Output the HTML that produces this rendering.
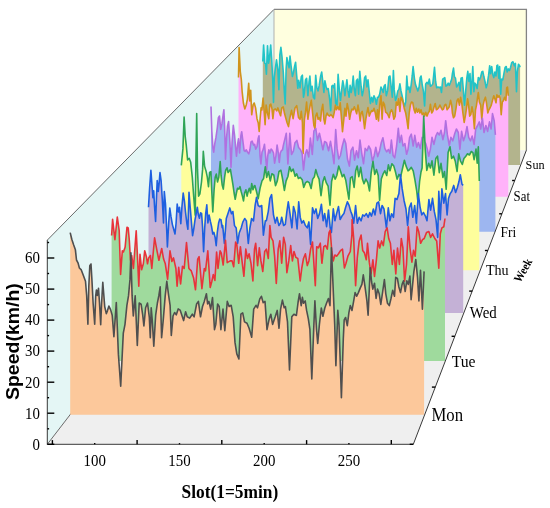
<!DOCTYPE html>
<html><head><meta charset="utf-8"><title>Speed by slot and weekday</title>
<style>html,body{margin:0;padding:0;background:#fff}svg{display:block}</style></head>
<body>
<svg width="550" height="508" viewBox="0 0 550 508">
<rect width="550" height="508" fill="#fff"/>
<polygon points="274.0,9.4 526.4,9.4 526.4,150.2 274.0,150.2" fill="#FFFFDF"/>
<polygon points="47.3,444.3 47.3,240.1 274.0,9.4 274.0,150.2" fill="#E4F6F5"/>
<polygon points="47.3,444.3 413.3,444.3 526.4,150.2 274.0,150.2" fill="#EFEFEF"/>
<path d="M274.0,9.4 L526.4,9.4 L526.4,150.2" fill="none" stroke="#848484" stroke-width="1.3"/>
<path d="M47.3,240.1 L274.0,9.4" fill="none" stroke="#5a5a5a" stroke-width="0.9"/>
<path d="M47.3,444.3 L274.0,150.2" fill="none" stroke="#5a5a5a" stroke-width="0.9"/>
<path d="M274.0,9.4 L274.0,150.2" fill="none" stroke="#a8a8a8" stroke-width="0.9"/>
<polygon points="262.8,165.0 262.8,61.5 263.6,45.0 264.7,63.1 265.6,63.9 266.4,74.1 267.5,45.7 268.6,63.1 269.6,56.8 270.7,45.0 271.8,61.5 272.7,78.8 273.5,102.4 274.3,77.2 275.4,67.8 276.5,59.9 277.8,69.4 278.9,89.8 279.8,55.2 280.9,47.3 282.0,56.8 283.3,72.5 284.4,93.0 285.2,104.0 286.1,69.4 286.9,57.6 288.0,63.1 289.1,67.8 290.0,56.0 291.1,66.2 292.4,76.5 293.5,72.5 294.6,66.2 295.6,62.3 296.7,75.7 297.8,88.3 298.7,80.4 299.8,86.7 300.0,87.8 301.3,76.8 302.4,75.2 303.5,97.2 304.4,92.5 305.5,79.9 306.6,78.3 307.9,95.7 309.1,81.5 309.9,76.0 311.0,90.9 312.1,86.2 313.4,97.2 314.6,98.8 315.7,75.2 316.9,87.8 318.1,90.9 319.2,85.4 320.5,76.8 321.7,72.0 322.8,81.5 323.9,92.5 324.9,80.7 326.0,86.2 327.1,89.4 328.3,88.6 329.6,98.8 330.7,110.6 331.8,86.2 332.8,85.4 333.9,87.8 334.6,83.9 335.7,103.5 337.0,105.1 338.1,74.4 339.4,90.9 340.5,100.4 341.7,89.4 342.8,80.7 343.8,86.2 344.9,95.7 346.0,87.0 346.9,79.9 348.0,90.9 349.1,97.2 350.1,85.4 351.2,92.5 352.3,86.2 353.2,76.0 354.3,89.4 355.4,95.7 356.4,80.7 357.5,79.1 358.6,94.1 359.8,71.3 361.1,86.2 362.2,95.7 363.3,90.9 364.6,77.6 365.7,76.0 366.9,87.0 368.0,79.9 369.3,92.5 370.4,103.5 371.7,97.2 372.8,102.0 374.0,95.7 375.3,98.8 376.4,104.3 377.5,97.2 378.5,97.2 379.7,94.1 381.0,87.0 382.1,89.4 383.2,92.5 384.1,86.2 385.2,84.6 386.3,95.7 387.6,90.9 388.9,76.8 390.0,76.0 391.1,86.2 392.3,97.2 393.4,70.5 394.2,89.4 395.5,100.4 396.6,97.2 397.8,90.9 398.9,89.4 399.9,83.9 401.0,90.9 402.1,95.7 403.3,102.0 404.4,106.7 405.7,102.0 406.8,76.0 407.8,89.4 408.9,87.0 410.0,92.5 411.2,84.6 412.3,75.2 413.1,66.5 414.4,78.3 415.5,84.6 416.7,87.8 417.8,90.9 419.1,87.0 420.2,77.6 421.1,76.0 422.2,84.6 423.5,91.7 424.6,105.9 425.7,83.9 427.0,82.3 428.2,83.9 429.3,79.1 430.4,86.2 431.7,85.4 432.8,83.9 433.7,75.2 434.5,67.3 435.6,81.5 436.7,87.8 438.0,87.0 439.3,87.8 440.4,87.0 441.5,92.5 442.7,79.1 443.8,78.3 444.8,77.6 445.9,86.2 447.1,85.4 448.2,83.1 449.3,85.4 450.6,82.3 451.7,79.1 452.4,73.6 453.5,68.1 454.4,76.8 455.5,78.3 456.6,87.0 457.9,84.6 459.0,82.3 460.2,90.9 461.0,78.3 462.3,77.6 463.4,90.9 464.5,105.1 465.7,90.9 466.9,77.6 467.8,71.3 468.9,81.5 470.0,73.6 470.9,94.1 472.0,80.7 472.8,66.5 473.9,91.7 474.9,83.1 476.0,84.6 477.1,88.6 478.3,77.6 479.4,79.9 480.7,76.8 481.8,72.0 482.8,71.3 483.9,76.8 485.0,81.5 486.2,87.8 487.3,83.9 488.6,75.2 489.7,65.7 490.6,73.6 491.7,66.5 492.8,74.4 493.8,77.6 494.9,72.0 496.0,76.0 496.9,65.7 497.7,65.0 498.8,78.3 499.6,66.5 500.7,94.1 501.7,79.1 502.8,79.9 503.9,73.6 505.1,67.3 506.2,66.5 507.2,72.0 508.3,68.9 509.5,70.5 510.6,67.3 511.7,62.6 513.0,61.8 514.3,65.7 515.4,63.4 516.5,91.7 517.4,71.3 518.5,64.2 519.6,65.7 520.1,67.3 520.1,165.0" fill="#B3B48D"/>
<polyline points="262.8,61.5 263.6,45.0 264.7,63.1 265.6,63.9 266.4,74.1 267.5,45.7 268.6,63.1 269.6,56.8 270.7,45.0 271.8,61.5 272.7,78.8 273.5,102.4 274.3,77.2 275.4,67.8 276.5,59.9 277.8,69.4 278.9,89.8 279.8,55.2 280.9,47.3 282.0,56.8 283.3,72.5 284.4,93.0 285.2,104.0 286.1,69.4 286.9,57.6 288.0,63.1 289.1,67.8 290.0,56.0 291.1,66.2 292.4,76.5 293.5,72.5 294.6,66.2 295.6,62.3 296.7,75.7 297.8,88.3 298.7,80.4 299.8,86.7 300.0,87.8 301.3,76.8 302.4,75.2 303.5,97.2 304.4,92.5 305.5,79.9 306.6,78.3 307.9,95.7 309.1,81.5 309.9,76.0 311.0,90.9 312.1,86.2 313.4,97.2 314.6,98.8 315.7,75.2 316.9,87.8 318.1,90.9 319.2,85.4 320.5,76.8 321.7,72.0 322.8,81.5 323.9,92.5 324.9,80.7 326.0,86.2 327.1,89.4 328.3,88.6 329.6,98.8 330.7,110.6 331.8,86.2 332.8,85.4 333.9,87.8 334.6,83.9 335.7,103.5 337.0,105.1 338.1,74.4 339.4,90.9 340.5,100.4 341.7,89.4 342.8,80.7 343.8,86.2 344.9,95.7 346.0,87.0 346.9,79.9 348.0,90.9 349.1,97.2 350.1,85.4 351.2,92.5 352.3,86.2 353.2,76.0 354.3,89.4 355.4,95.7 356.4,80.7 357.5,79.1 358.6,94.1 359.8,71.3 361.1,86.2 362.2,95.7 363.3,90.9 364.6,77.6 365.7,76.0 366.9,87.0 368.0,79.9 369.3,92.5 370.4,103.5 371.7,97.2 372.8,102.0 374.0,95.7 375.3,98.8 376.4,104.3 377.5,97.2 378.5,97.2 379.7,94.1 381.0,87.0 382.1,89.4 383.2,92.5 384.1,86.2 385.2,84.6 386.3,95.7 387.6,90.9 388.9,76.8 390.0,76.0 391.1,86.2 392.3,97.2 393.4,70.5 394.2,89.4 395.5,100.4 396.6,97.2 397.8,90.9 398.9,89.4 399.9,83.9 401.0,90.9 402.1,95.7 403.3,102.0 404.4,106.7 405.7,102.0 406.8,76.0 407.8,89.4 408.9,87.0 410.0,92.5 411.2,84.6 412.3,75.2 413.1,66.5 414.4,78.3 415.5,84.6 416.7,87.8 417.8,90.9 419.1,87.0 420.2,77.6 421.1,76.0 422.2,84.6 423.5,91.7 424.6,105.9 425.7,83.9 427.0,82.3 428.2,83.9 429.3,79.1 430.4,86.2 431.7,85.4 432.8,83.9 433.7,75.2 434.5,67.3 435.6,81.5 436.7,87.8 438.0,87.0 439.3,87.8 440.4,87.0 441.5,92.5 442.7,79.1 443.8,78.3 444.8,77.6 445.9,86.2 447.1,85.4 448.2,83.1 449.3,85.4 450.6,82.3 451.7,79.1 452.4,73.6 453.5,68.1 454.4,76.8 455.5,78.3 456.6,87.0 457.9,84.6 459.0,82.3 460.2,90.9 461.0,78.3 462.3,77.6 463.4,90.9 464.5,105.1 465.7,90.9 466.9,77.6 467.8,71.3 468.9,81.5 470.0,73.6 470.9,94.1 472.0,80.7 472.8,66.5 473.9,91.7 474.9,83.1 476.0,84.6 477.1,88.6 478.3,77.6 479.4,79.9 480.7,76.8 481.8,72.0 482.8,71.3 483.9,76.8 485.0,81.5 486.2,87.8 487.3,83.9 488.6,75.2 489.7,65.7 490.6,73.6 491.7,66.5 492.8,74.4 493.8,77.6 494.9,72.0 496.0,76.0 496.9,65.7 497.7,65.0 498.8,78.3 499.6,66.5 500.7,94.1 501.7,79.1 502.8,79.9 503.9,73.6 505.1,67.3 506.2,66.5 507.2,72.0 508.3,68.9 509.5,70.5 510.6,67.3 511.7,62.6 513.0,61.8 514.3,65.7 515.4,63.4 516.5,91.7 517.4,71.3 518.5,64.2 519.6,65.7 520.1,67.3" fill="none" stroke="#22C3C7" stroke-width="1.6" stroke-linejoin="round"/>
<polygon points="238.5,196.8 238.5,77.4 239.1,47.5 240.3,71.5 241.3,79.4 242.2,92.2 243.4,103.0 244.8,108.9 246.2,105.0 247.4,99.1 248.7,83.3 249.7,101.0 250.7,90.2 251.7,114.8 253.1,105.0 254.2,103.0 255.6,107.9 257.0,118.7 258.2,122.7 259.2,131.5 260.1,118.7 261.1,107.9 261.9,109.9 263.1,98.1 264.1,110.9 265.1,124.6 266.1,105.0 267.4,112.8 268.8,118.7 269.8,105.0 270.8,104.0 272.0,108.9 272.9,118.7 273.9,109.9 275.3,108.9 276.7,110.9 277.9,107.9 279.2,111.9 280.6,115.8 281.8,107.9 283.2,106.9 284.6,113.8 285.7,117.8 287.1,122.7 288.5,126.6 289.7,118.7 291.5,110.4 293.1,118.6 295.0,108.0 296.7,105.6 298.5,117.5 300.0,119.3 301.3,111.4 302.4,122.4 303.1,153.5 304.4,119.3 305.5,112.2 306.6,102.0 307.9,119.3 309.0,111.4 310.2,105.1 311.3,100.4 312.6,113.0 313.9,125.6 315.0,128.7 315.7,116.1 316.9,113.0 318.1,119.3 319.2,117.7 320.5,120.9 321.6,109.8 322.8,104.3 323.9,119.3 324.9,124.0 326.0,116.1 327.1,113.0 328.3,115.4 329.6,116.1 330.7,114.6 331.8,115.4 333.1,117.7 334.3,112.2 335.4,105.1 336.5,109.8 337.8,106.7 339.1,109.8 340.2,102.8 341.3,116.1 342.5,131.6 343.8,119.3 344.9,108.3 346.0,116.1 347.2,103.5 348.5,109.8 349.6,119.3 350.7,113.0 352.0,109.1 353.2,109.8 354.3,106.7 355.4,109.8 356.7,113.8 358.0,105.1 359.1,112.2 360.2,120.9 361.1,113.0 362.2,111.4 363.3,117.7 364.6,128.7 365.8,119.3 366.9,113.0 368.0,107.5 369.3,116.1 370.4,113.0 371.7,110.6 372.8,111.4 374.0,108.3 375.3,113.0 376.4,119.3 377.5,109.8 378.5,120.9 379.7,105.1 381.0,95.7 382.1,119.3 383.2,102.0 384.4,104.3 385.6,112.2 386.8,113.0 387.9,114.6 389.2,117.7 390.3,112.2 391.5,109.8 392.6,112.2 393.9,119.3 395.2,116.1 396.3,102.0 397.5,105.1 398.6,98.8 399.9,111.4 401.0,97.2 402.1,98.8 403.3,103.5 404.4,109.1 405.7,113.0 406.8,119.3 408.1,128.7 409.2,113.0 410.4,105.1 411.5,102.0 412.8,102.8 414.1,109.8 415.2,113.0 416.3,108.3 417.5,112.2 418.8,109.1 419.9,113.0 421.0,109.8 422.2,114.6 423.5,113.0 424.6,116.1 425.7,112.2 427.0,116.1 428.2,113.0 429.3,111.4 430.4,104.3 431.7,113.0 432.8,111.4 434.1,106.7 435.2,103.5 436.4,109.8 437.5,109.1 438.8,107.5 439.9,105.1 441.1,107.5 442.4,109.8 443.5,109.1 444.6,105.1 445.9,104.3 447.1,109.8 448.2,108.3 449.3,106.7 450.6,100.4 451.7,105.1 452.4,113.0 453.5,117.7 454.7,116.1 456.0,108.3 457.1,100.4 458.2,98.8 459.4,105.1 460.6,97.2 461.8,103.5 462.9,113.0 464.2,122.4 465.3,116.1 466.5,108.3 467.6,98.8 468.6,105.1 469.7,116.1 470.8,114.6 472.0,106.7 473.1,113.0 474.4,128.7 475.5,109.8 476.5,105.1 477.6,97.2 478.3,92.5 479.4,102.0 480.7,105.1 481.8,119.3 483.1,105.1 484.2,100.4 485.4,97.2 486.5,102.8 487.8,113.0 488.9,109.8 490.2,107.5 491.3,105.1 492.5,100.4 493.8,95.7 494.9,98.8 496.0,102.8 496.9,94.9 498.0,97.2 499.1,95.7 500.1,98.0 501.2,114.6 502.3,102.0 503.5,100.4 504.6,97.2 505.9,100.4 506.7,87.8 507.5,87.0 508.3,95.7 508.3,196.8" fill="#FFB2FA"/>
<polyline points="238.5,77.4 239.1,47.5 240.3,71.5 241.3,79.4 242.2,92.2 243.4,103.0 244.8,108.9 246.2,105.0 247.4,99.1 248.7,83.3 249.7,101.0 250.7,90.2 251.7,114.8 253.1,105.0 254.2,103.0 255.6,107.9 257.0,118.7 258.2,122.7 259.2,131.5 260.1,118.7 261.1,107.9 261.9,109.9 263.1,98.1 264.1,110.9 265.1,124.6 266.1,105.0 267.4,112.8 268.8,118.7 269.8,105.0 270.8,104.0 272.0,108.9 272.9,118.7 273.9,109.9 275.3,108.9 276.7,110.9 277.9,107.9 279.2,111.9 280.6,115.8 281.8,107.9 283.2,106.9 284.6,113.8 285.7,117.8 287.1,122.7 288.5,126.6 289.7,118.7 291.5,110.4 293.1,118.6 295.0,108.0 296.7,105.6 298.5,117.5 300.0,119.3 301.3,111.4 302.4,122.4 303.1,153.5 304.4,119.3 305.5,112.2 306.6,102.0 307.9,119.3 309.0,111.4 310.2,105.1 311.3,100.4 312.6,113.0 313.9,125.6 315.0,128.7 315.7,116.1 316.9,113.0 318.1,119.3 319.2,117.7 320.5,120.9 321.6,109.8 322.8,104.3 323.9,119.3 324.9,124.0 326.0,116.1 327.1,113.0 328.3,115.4 329.6,116.1 330.7,114.6 331.8,115.4 333.1,117.7 334.3,112.2 335.4,105.1 336.5,109.8 337.8,106.7 339.1,109.8 340.2,102.8 341.3,116.1 342.5,131.6 343.8,119.3 344.9,108.3 346.0,116.1 347.2,103.5 348.5,109.8 349.6,119.3 350.7,113.0 352.0,109.1 353.2,109.8 354.3,106.7 355.4,109.8 356.7,113.8 358.0,105.1 359.1,112.2 360.2,120.9 361.1,113.0 362.2,111.4 363.3,117.7 364.6,128.7 365.8,119.3 366.9,113.0 368.0,107.5 369.3,116.1 370.4,113.0 371.7,110.6 372.8,111.4 374.0,108.3 375.3,113.0 376.4,119.3 377.5,109.8 378.5,120.9 379.7,105.1 381.0,95.7 382.1,119.3 383.2,102.0 384.4,104.3 385.6,112.2 386.8,113.0 387.9,114.6 389.2,117.7 390.3,112.2 391.5,109.8 392.6,112.2 393.9,119.3 395.2,116.1 396.3,102.0 397.5,105.1 398.6,98.8 399.9,111.4 401.0,97.2 402.1,98.8 403.3,103.5 404.4,109.1 405.7,113.0 406.8,119.3 408.1,128.7 409.2,113.0 410.4,105.1 411.5,102.0 412.8,102.8 414.1,109.8 415.2,113.0 416.3,108.3 417.5,112.2 418.8,109.1 419.9,113.0 421.0,109.8 422.2,114.6 423.5,113.0 424.6,116.1 425.7,112.2 427.0,116.1 428.2,113.0 429.3,111.4 430.4,104.3 431.7,113.0 432.8,111.4 434.1,106.7 435.2,103.5 436.4,109.8 437.5,109.1 438.8,107.5 439.9,105.1 441.1,107.5 442.4,109.8 443.5,109.1 444.6,105.1 445.9,104.3 447.1,109.8 448.2,108.3 449.3,106.7 450.6,100.4 451.7,105.1 452.4,113.0 453.5,117.7 454.7,116.1 456.0,108.3 457.1,100.4 458.2,98.8 459.4,105.1 460.6,97.2 461.8,103.5 462.9,113.0 464.2,122.4 465.3,116.1 466.5,108.3 467.6,98.8 468.6,105.1 469.7,116.1 470.8,114.6 472.0,106.7 473.1,113.0 474.4,128.7 475.5,109.8 476.5,105.1 477.6,97.2 478.3,92.5 479.4,102.0 480.7,105.1 481.8,119.3 483.1,105.1 484.2,100.4 485.4,97.2 486.5,102.8 487.8,113.0 488.9,109.8 490.2,107.5 491.3,105.1 492.5,100.4 493.8,95.7 494.9,98.8 496.0,102.8 496.9,94.9 498.0,97.2 499.1,95.7 500.1,98.0 501.2,114.6 502.3,102.0 503.5,100.4 504.6,97.2 505.9,100.4 506.7,87.8 507.5,87.0 508.3,95.7" fill="none" stroke="#D0941C" stroke-width="1.6" stroke-linejoin="round"/>
<polygon points="211.0,231.7 211.0,106.5 211.8,130.9 212.9,148.3 213.7,152.2 214.8,143.5 216.0,137.2 217.3,127.8 218.4,117.6 219.5,116.0 220.7,129.4 221.9,123.9 223.1,115.2 223.9,109.7 224.7,129.4 225.5,159.3 226.6,137.2 227.5,126.2 228.6,121.5 229.9,142.0 231.0,167.2 232.1,142.0 233.3,125.4 234.6,135.7 235.7,148.3 236.5,156.1 237.6,144.3 238.5,138.8 239.6,153.0 240.9,135.7 241.7,131.7 242.8,140.4 244.1,150.6 245.2,151.4 246.3,149.8 247.5,152.2 248.8,153.8 249.9,149.8 251.0,142.0 252.2,141.2 253.5,145.1 254.6,144.3 255.7,149.1 257.0,146.7 258.1,138.8 259.0,135.7 260.1,156.1 260.9,164.0 262.0,152.2 263.3,149.1 264.5,144.3 265.6,156.1 266.7,170.0 267.7,156.1 268.8,149.8 269.9,153.0 271.1,149.1 272.4,150.6 273.5,153.0 274.6,163.2 275.9,156.1 277.1,145.1 278.2,152.2 279.3,162.4 280.3,153.0 281.4,150.6 282.5,149.8 283.4,145.1 286.3,133.3 287.9,164.0 289.8,133.3 291.5,154.5 293.4,151.0 295.0,142.7 296.9,140.4 298.6,147.5 300.5,149.8 302.1,153.4 303.5,169.9 305.2,154.5 306.8,149.8 308.7,156.9 310.4,138.0 312.3,154.5 313.9,130.9 315.8,128.5 317.5,140.4 319.4,133.3 321.0,140.4 322.9,149.8 324.6,141.5 326.5,142.7 328.6,150.7 330.5,141.3 332.1,150.7 334.0,163.7 335.7,129.5 337.1,148.4 338.7,159.0 340.4,155.5 342.3,146.0 344.2,138.9 345.8,143.6 347.5,159.0 349.4,166.1 351.0,150.7 352.9,147.2 354.6,160.2 356.5,150.7 358.3,157.8 360.0,140.1 361.7,153.1 363.5,163.7 365.2,148.4 367.1,150.7 368.7,146.0 370.6,149.5 372.5,161.4 374.2,155.5 375.8,147.2 377.7,156.6 379.6,150.7 381.3,142.5 382.9,137.7 384.8,148.4 386.7,151.9 388.4,149.5 390.0,153.1 391.4,140.1 393.1,155.5 394.7,157.8 396.6,146.0 398.3,128.3 399.7,142.5 401.4,135.4 403.0,146.0 404.9,143.6 406.6,154.3 408.0,149.5 409.6,137.7 411.3,134.2 413.2,146.0 414.8,135.4 416.7,147.2 418.4,142.5 420.3,148.4 422.1,137.3 423.7,140.8 425.6,143.2 427.3,149.1 428.7,156.2 430.4,149.1 432.0,137.3 433.9,144.4 435.8,136.1 437.5,132.5 439.3,134.9 441.0,130.2 442.9,139.6 444.5,132.5 445.7,120.7 447.4,134.9 449.3,145.5 450.9,137.3 452.8,140.8 454.7,133.7 456.4,129.0 458.3,132.5 459.9,149.1 461.6,131.4 463.5,140.8 465.1,136.1 467.0,126.6 468.7,137.3 470.5,140.8 472.2,136.1 474.1,144.4 475.7,129.0 477.6,125.5 479.3,121.9 480.7,129.0 482.4,118.4 484.0,132.5 485.9,125.5 487.6,131.4 489.5,121.9 491.1,129.0 492.5,113.6 494.2,120.7 495.4,134.9 495.4,231.7" fill="#9DB6F0"/>
<polyline points="211.0,106.5 211.8,130.9 212.9,148.3 213.7,152.2 214.8,143.5 216.0,137.2 217.3,127.8 218.4,117.6 219.5,116.0 220.7,129.4 221.9,123.9 223.1,115.2 223.9,109.7 224.7,129.4 225.5,159.3 226.6,137.2 227.5,126.2 228.6,121.5 229.9,142.0 231.0,167.2 232.1,142.0 233.3,125.4 234.6,135.7 235.7,148.3 236.5,156.1 237.6,144.3 238.5,138.8 239.6,153.0 240.9,135.7 241.7,131.7 242.8,140.4 244.1,150.6 245.2,151.4 246.3,149.8 247.5,152.2 248.8,153.8 249.9,149.8 251.0,142.0 252.2,141.2 253.5,145.1 254.6,144.3 255.7,149.1 257.0,146.7 258.1,138.8 259.0,135.7 260.1,156.1 260.9,164.0 262.0,152.2 263.3,149.1 264.5,144.3 265.6,156.1 266.7,170.0 267.7,156.1 268.8,149.8 269.9,153.0 271.1,149.1 272.4,150.6 273.5,153.0 274.6,163.2 275.9,156.1 277.1,145.1 278.2,152.2 279.3,162.4 280.3,153.0 281.4,150.6 282.5,149.8 283.4,145.1 286.3,133.3 287.9,164.0 289.8,133.3 291.5,154.5 293.4,151.0 295.0,142.7 296.9,140.4 298.6,147.5 300.5,149.8 302.1,153.4 303.5,169.9 305.2,154.5 306.8,149.8 308.7,156.9 310.4,138.0 312.3,154.5 313.9,130.9 315.8,128.5 317.5,140.4 319.4,133.3 321.0,140.4 322.9,149.8 324.6,141.5 326.5,142.7 328.6,150.7 330.5,141.3 332.1,150.7 334.0,163.7 335.7,129.5 337.1,148.4 338.7,159.0 340.4,155.5 342.3,146.0 344.2,138.9 345.8,143.6 347.5,159.0 349.4,166.1 351.0,150.7 352.9,147.2 354.6,160.2 356.5,150.7 358.3,157.8 360.0,140.1 361.7,153.1 363.5,163.7 365.2,148.4 367.1,150.7 368.7,146.0 370.6,149.5 372.5,161.4 374.2,155.5 375.8,147.2 377.7,156.6 379.6,150.7 381.3,142.5 382.9,137.7 384.8,148.4 386.7,151.9 388.4,149.5 390.0,153.1 391.4,140.1 393.1,155.5 394.7,157.8 396.6,146.0 398.3,128.3 399.7,142.5 401.4,135.4 403.0,146.0 404.9,143.6 406.6,154.3 408.0,149.5 409.6,137.7 411.3,134.2 413.2,146.0 414.8,135.4 416.7,147.2 418.4,142.5 420.3,148.4 422.1,137.3 423.7,140.8 425.6,143.2 427.3,149.1 428.7,156.2 430.4,149.1 432.0,137.3 433.9,144.4 435.8,136.1 437.5,132.5 439.3,134.9 441.0,130.2 442.9,139.6 444.5,132.5 445.7,120.7 447.4,134.9 449.3,145.5 450.9,137.3 452.8,140.8 454.7,133.7 456.4,129.0 458.3,132.5 459.9,149.1 461.6,131.4 463.5,140.8 465.1,136.1 467.0,126.6 468.7,137.3 470.5,140.8 472.2,136.1 474.1,144.4 475.7,129.0 477.6,125.5 479.3,121.9 480.7,129.0 482.4,118.4 484.0,132.5 485.9,125.5 487.6,131.4 489.5,121.9 491.1,129.0 492.5,113.6 494.2,120.7 495.4,134.9" fill="none" stroke="#B070E0" stroke-width="1.6" stroke-linejoin="round"/>
<polygon points="181.3,270.2 181.3,165.4 182.9,148.9 184.1,117.1 185.2,136.3 186.3,145.7 187.6,159.9 189.2,158.3 190.7,162.3 192.3,177.2 193.9,199.3 195.2,215.2 195.9,161.5 196.7,113.5 197.5,169.4 198.6,196.1 199.9,193.8 201.5,182.0 202.6,169.4 203.3,151.3 204.6,166.2 206.0,170.9 207.3,177.2 208.5,186.7 209.6,172.5 210.9,171.7 211.7,189.8 212.8,211.9 214.1,189.8 215.2,177.2 216.3,174.1 217.5,182.0 218.8,177.2 220.2,161.5 221.1,175.7 222.2,185.1 223.3,189.1 224.6,177.2 225.7,170.2 227.0,167.8 228.1,172.5 229.3,170.9 230.4,169.4 231.7,177.2 233.0,185.1 234.1,193.0 235.2,199.3 236.4,193.0 237.5,188.3 238.8,189.1 240.0,186.7 241.1,191.4 242.4,196.1 243.5,200.9 244.6,193.0 245.9,189.8 247.1,196.1 248.2,191.4 249.3,188.3 250.6,193.0 251.7,183.5 253.0,189.8 254.2,185.9 254.9,185.6 256.5,191.5 258.2,198.6 260.1,188.0 262.0,180.9 263.6,178.5 265.3,166.7 266.7,177.4 268.4,171.5 270.3,180.9 271.9,173.8 273.8,175.0 275.5,185.6 277.3,180.9 279.0,171.5 280.9,170.3 282.5,178.5 284.4,190.4 286.1,180.9 288.0,176.2 289.6,166.7 291.3,171.5 293.2,169.1 295.1,176.2 296.7,173.8 298.4,178.5 300.3,177.4 302.2,179.7 303.7,187.4 305.6,182.6 307.3,181.5 309.2,182.6 311.1,188.5 312.7,179.1 314.4,176.7 315.8,169.6 317.5,175.5 319.1,179.1 321.0,195.6 322.9,181.5 324.5,176.7 326.2,182.6 328.1,186.2 330.0,205.1 331.6,181.5 333.3,174.4 335.2,179.1 336.8,175.5 338.7,166.1 340.4,170.8 342.3,176.7 343.9,174.4 345.8,180.3 347.5,190.9 348.9,199.2 350.5,177.9 352.2,176.7 354.1,187.4 355.7,170.8 357.2,166.1 358.8,176.7 360.7,167.3 362.4,179.1 364.0,183.8 365.9,179.1 367.8,182.6 369.5,190.9 371.1,173.2 373.0,161.4 374.7,174.4 376.5,169.6 378.2,175.5 379.6,200.4 381.3,179.1 382.9,174.4 384.8,170.8 386.7,175.5 388.4,164.9 390.0,170.8 391.9,163.7 393.8,166.1 395.5,172.0 397.1,179.1 399.0,174.4 400.7,176.7 402.5,168.5 404.4,160.2 406.1,166.1 408.0,170.8 409.6,169.6 411.3,167.3 413.2,170.8 414.8,179.1 416.7,190.9 417.9,201.5 419.6,181.5 421.0,172.0 422.1,168.0 423.7,116.0 425.2,149.1 426.8,170.4 428.7,163.3 430.4,168.0 432.0,160.9 433.9,175.1 435.8,158.5 437.5,156.2 439.3,172.7 441.0,163.3 442.9,177.5 444.5,171.5 446.2,189.3 448.1,152.6 450.0,146.7 451.6,158.5 453.5,156.2 455.2,160.9 457.1,171.5 458.7,153.8 460.4,160.9 462.3,164.5 463.9,158.5 465.8,156.2 467.5,153.8 469.4,155.0 471.3,151.5 472.9,152.6 474.1,159.7 476.0,149.1 477.2,163.3 478.3,146.7 479.3,181.0 479.3,270.2" fill="#FEFE9C"/>
<polyline points="181.3,165.4 182.9,148.9 184.1,117.1 185.2,136.3 186.3,145.7 187.6,159.9 189.2,158.3 190.7,162.3 192.3,177.2 193.9,199.3 195.2,215.2 195.9,161.5 196.7,113.5 197.5,169.4 198.6,196.1 199.9,193.8 201.5,182.0 202.6,169.4 203.3,151.3 204.6,166.2 206.0,170.9 207.3,177.2 208.5,186.7 209.6,172.5 210.9,171.7 211.7,189.8 212.8,211.9 214.1,189.8 215.2,177.2 216.3,174.1 217.5,182.0 218.8,177.2 220.2,161.5 221.1,175.7 222.2,185.1 223.3,189.1 224.6,177.2 225.7,170.2 227.0,167.8 228.1,172.5 229.3,170.9 230.4,169.4 231.7,177.2 233.0,185.1 234.1,193.0 235.2,199.3 236.4,193.0 237.5,188.3 238.8,189.1 240.0,186.7 241.1,191.4 242.4,196.1 243.5,200.9 244.6,193.0 245.9,189.8 247.1,196.1 248.2,191.4 249.3,188.3 250.6,193.0 251.7,183.5 253.0,189.8 254.2,185.9 254.9,185.6 256.5,191.5 258.2,198.6 260.1,188.0 262.0,180.9 263.6,178.5 265.3,166.7 266.7,177.4 268.4,171.5 270.3,180.9 271.9,173.8 273.8,175.0 275.5,185.6 277.3,180.9 279.0,171.5 280.9,170.3 282.5,178.5 284.4,190.4 286.1,180.9 288.0,176.2 289.6,166.7 291.3,171.5 293.2,169.1 295.1,176.2 296.7,173.8 298.4,178.5 300.3,177.4 302.2,179.7 303.7,187.4 305.6,182.6 307.3,181.5 309.2,182.6 311.1,188.5 312.7,179.1 314.4,176.7 315.8,169.6 317.5,175.5 319.1,179.1 321.0,195.6 322.9,181.5 324.5,176.7 326.2,182.6 328.1,186.2 330.0,205.1 331.6,181.5 333.3,174.4 335.2,179.1 336.8,175.5 338.7,166.1 340.4,170.8 342.3,176.7 343.9,174.4 345.8,180.3 347.5,190.9 348.9,199.2 350.5,177.9 352.2,176.7 354.1,187.4 355.7,170.8 357.2,166.1 358.8,176.7 360.7,167.3 362.4,179.1 364.0,183.8 365.9,179.1 367.8,182.6 369.5,190.9 371.1,173.2 373.0,161.4 374.7,174.4 376.5,169.6 378.2,175.5 379.6,200.4 381.3,179.1 382.9,174.4 384.8,170.8 386.7,175.5 388.4,164.9 390.0,170.8 391.9,163.7 393.8,166.1 395.5,172.0 397.1,179.1 399.0,174.4 400.7,176.7 402.5,168.5 404.4,160.2 406.1,166.1 408.0,170.8 409.6,169.6 411.3,167.3 413.2,170.8 414.8,179.1 416.7,190.9 417.9,201.5 419.6,181.5 421.0,172.0 422.1,168.0 423.7,116.0 425.2,149.1 426.8,170.4 428.7,163.3 430.4,168.0 432.0,160.9 433.9,175.1 435.8,158.5 437.5,156.2 439.3,172.7 441.0,163.3 442.9,177.5 444.5,171.5 446.2,189.3 448.1,152.6 450.0,146.7 451.6,158.5 453.5,156.2 455.2,160.9 457.1,171.5 458.7,153.8 460.4,160.9 462.3,164.5 463.9,158.5 465.8,156.2 467.5,153.8 469.4,155.0 471.3,151.5 472.9,152.6 474.1,159.7 476.0,149.1 477.2,163.3 478.3,146.7 479.3,181.0" fill="none" stroke="#2FA457" stroke-width="1.6" stroke-linejoin="round"/>
<polygon points="148.5,313.1 148.5,207.2 149.6,188.3 150.9,170.2 152.1,186.8 152.9,197.8 153.7,190.7 154.5,205.7 155.6,221.4 156.4,199.4 157.2,180.5 158.3,191.5 159.1,183.6 160.0,172.6 161.1,180.5 162.2,197.8 163.5,223.0 164.3,191.5 165.5,204.1 166.6,227.7 167.4,246.9 168.7,223.0 169.8,208.0 171.0,216.7 172.4,224.6 173.7,229.3 175.0,234.0 176.1,223.0 177.2,204.1 178.4,212.0 179.5,207.2 180.8,223.8 181.9,207.2 183.2,193.1 184.4,200.9 185.5,212.0 186.8,223.0 187.9,229.3 189.0,192.3 190.2,207.2 191.5,223.0 192.6,235.6 193.7,229.3 195.0,219.8 196.2,213.5 197.3,207.2 198.4,215.1 199.4,218.3 200.5,212.8 201.6,213.5 202.5,226.1 203.6,251.7 204.7,227.7 205.7,213.5 206.8,204.9 207.9,223.0 209.1,215.1 210.4,221.4 211.5,226.1 212.8,234.0 213.9,232.4 215.1,237.2 216.2,245.7 217.3,232.4 218.6,223.0 219.7,219.1 221.0,219.8 222.2,227.7 222.7,225.6 224.4,243.4 226.3,218.5 227.9,213.8 229.8,207.9 231.5,213.8 232.9,211.5 234.5,225.6 236.2,228.0 237.6,243.4 239.3,232.7 241.2,228.0 242.8,222.1 244.7,218.5 246.4,220.9 248.3,243.4 249.9,228.0 251.6,218.5 253.5,220.9 255.1,205.5 256.5,197.3 258.2,205.5 259.8,206.7 261.7,205.5 263.4,235.1 265.3,220.9 266.4,220.7 268.3,211.3 269.9,198.3 271.6,194.7 273.5,214.8 275.3,223.1 277.0,217.2 278.9,225.5 280.5,223.1 281.7,217.2 283.6,225.5 285.3,224.3 286.9,211.3 288.3,201.8 290.0,213.6 291.9,227.8 293.5,206.5 295.2,212.5 297.1,229.0 298.7,201.8 300.2,217.2 301.8,223.1 303.5,220.7 305.4,225.5 307.3,227.8 308.9,221.9 310.6,244.4 312.5,207.7 314.3,213.6 316.0,208.9 317.7,218.4 319.5,213.6 321.4,204.2 323.1,220.7 324.7,213.6 326.6,226.6 328.5,210.1 330.2,227.8 331.4,232.5 333.3,208.9 334.9,220.7 336.6,213.6 338.5,206.5 340.1,219.5 342.0,216.0 343.9,213.6 345.5,207.7 347.4,201.8 349.1,205.4 350.7,211.3 352.1,214.9 353.7,223.2 355.6,205.5 357.3,223.2 359.2,217.3 361.1,220.8 362.7,214.9 364.4,216.1 366.3,213.7 368.2,217.3 369.8,212.5 371.5,216.1 373.4,209.0 375.0,214.9 376.9,203.1 378.6,201.9 380.5,213.7 382.1,205.5 384.0,209.0 386.4,227.9 388.3,207.8 389.9,220.8 391.6,213.7 393.5,217.3 395.1,198.4 397.0,199.5 398.9,193.6 400.5,174.7 402.2,188.9 404.1,200.7 406.0,209.0 407.6,225.5 409.3,207.8 411.2,203.1 412.8,217.3 414.7,205.5 416.4,223.2 418.3,193.6 420.2,207.8 421.8,214.9 423.5,212.5 425.4,216.1 427.0,220.8 428.9,199.5 430.6,210.2 432.5,198.4 434.3,211.4 436.0,219.6 437.7,237.4 438.8,191.3 440.3,219.6 441.9,188.9 443.8,203.1 445.5,193.6 447.1,214.9 448.5,198.4 450.2,193.6 451.8,191.3 453.7,185.4 455.6,192.5 457.3,187.7 458.9,181.8 460.3,174.7 462.0,184.2 463.2,185.4 463.2,313.1" fill="#C4B1D6"/>
<polyline points="148.5,207.2 149.6,188.3 150.9,170.2 152.1,186.8 152.9,197.8 153.7,190.7 154.5,205.7 155.6,221.4 156.4,199.4 157.2,180.5 158.3,191.5 159.1,183.6 160.0,172.6 161.1,180.5 162.2,197.8 163.5,223.0 164.3,191.5 165.5,204.1 166.6,227.7 167.4,246.9 168.7,223.0 169.8,208.0 171.0,216.7 172.4,224.6 173.7,229.3 175.0,234.0 176.1,223.0 177.2,204.1 178.4,212.0 179.5,207.2 180.8,223.8 181.9,207.2 183.2,193.1 184.4,200.9 185.5,212.0 186.8,223.0 187.9,229.3 189.0,192.3 190.2,207.2 191.5,223.0 192.6,235.6 193.7,229.3 195.0,219.8 196.2,213.5 197.3,207.2 198.4,215.1 199.4,218.3 200.5,212.8 201.6,213.5 202.5,226.1 203.6,251.7 204.7,227.7 205.7,213.5 206.8,204.9 207.9,223.0 209.1,215.1 210.4,221.4 211.5,226.1 212.8,234.0 213.9,232.4 215.1,237.2 216.2,245.7 217.3,232.4 218.6,223.0 219.7,219.1 221.0,219.8 222.2,227.7 222.7,225.6 224.4,243.4 226.3,218.5 227.9,213.8 229.8,207.9 231.5,213.8 232.9,211.5 234.5,225.6 236.2,228.0 237.6,243.4 239.3,232.7 241.2,228.0 242.8,222.1 244.7,218.5 246.4,220.9 248.3,243.4 249.9,228.0 251.6,218.5 253.5,220.9 255.1,205.5 256.5,197.3 258.2,205.5 259.8,206.7 261.7,205.5 263.4,235.1 265.3,220.9 266.4,220.7 268.3,211.3 269.9,198.3 271.6,194.7 273.5,214.8 275.3,223.1 277.0,217.2 278.9,225.5 280.5,223.1 281.7,217.2 283.6,225.5 285.3,224.3 286.9,211.3 288.3,201.8 290.0,213.6 291.9,227.8 293.5,206.5 295.2,212.5 297.1,229.0 298.7,201.8 300.2,217.2 301.8,223.1 303.5,220.7 305.4,225.5 307.3,227.8 308.9,221.9 310.6,244.4 312.5,207.7 314.3,213.6 316.0,208.9 317.7,218.4 319.5,213.6 321.4,204.2 323.1,220.7 324.7,213.6 326.6,226.6 328.5,210.1 330.2,227.8 331.4,232.5 333.3,208.9 334.9,220.7 336.6,213.6 338.5,206.5 340.1,219.5 342.0,216.0 343.9,213.6 345.5,207.7 347.4,201.8 349.1,205.4 350.7,211.3 352.1,214.9 353.7,223.2 355.6,205.5 357.3,223.2 359.2,217.3 361.1,220.8 362.7,214.9 364.4,216.1 366.3,213.7 368.2,217.3 369.8,212.5 371.5,216.1 373.4,209.0 375.0,214.9 376.9,203.1 378.6,201.9 380.5,213.7 382.1,205.5 384.0,209.0 386.4,227.9 388.3,207.8 389.9,220.8 391.6,213.7 393.5,217.3 395.1,198.4 397.0,199.5 398.9,193.6 400.5,174.7 402.2,188.9 404.1,200.7 406.0,209.0 407.6,225.5 409.3,207.8 411.2,203.1 412.8,217.3 414.7,205.5 416.4,223.2 418.3,193.6 420.2,207.8 421.8,214.9 423.5,212.5 425.4,216.1 427.0,220.8 428.9,199.5 430.6,210.2 432.5,198.4 434.3,211.4 436.0,219.6 437.7,237.4 438.8,191.3 440.3,219.6 441.9,188.9 443.8,203.1 445.5,193.6 447.1,214.9 448.5,198.4 450.2,193.6 451.8,191.3 453.7,185.4 455.6,192.5 457.3,187.7 458.9,181.8 460.3,174.7 462.0,184.2 463.2,185.4" fill="none" stroke="#1E5FE0" stroke-width="1.6" stroke-linejoin="round"/>
<polygon points="111.6,361.0 111.6,235.5 112.6,219.4 114.9,239.7 117.3,217.0 119.2,230.7 120.6,274.5 122.3,250.8 123.4,252.0 125.1,247.3 127.0,227.2 128.2,227.9 129.3,240.2 130.5,260.3 131.7,255.5 133.4,268.5 136.2,230.7 137.6,259.1 138.8,286.3 140.0,254.4 141.6,269.7 143.3,263.8 144.7,250.8 146.4,256.7 147.5,263.8 148.7,257.9 150.4,255.5 151.8,268.5 154.6,237.8 157.0,250.8 158.9,260.3 161.7,248.5 163.6,259.1 165.3,263.8 167.6,279.2 170.0,250.8 171.9,261.5 173.5,257.9 175.9,268.5 177.1,286.3 178.7,267.4 180.6,283.9 182.5,266.2 184.2,268.5 186.5,242.5 188.9,268.5 191.3,270.9 193.6,278.0 195.5,289.8 197.7,259.1 199.1,256.7 201.9,288.6 204.3,268.5 205.5,270.9 207.8,250.8 210.2,287.5 211.8,281.5 213.3,274.5 214.9,280.4 216.6,252.0 218.0,268.5 220.1,250.8 221.3,253.2 223.2,265.0 225.5,240.2 227.2,262.6 230.2,260.9 232.1,260.9 233.7,266.8 235.6,242.0 236.8,244.4 238.7,263.3 240.4,246.7 242.0,260.9 243.9,276.3 245.8,249.1 247.5,258.5 249.1,253.8 251.0,263.3 252.9,281.0 254.5,249.1 255.7,243.2 257.6,265.6 259.3,247.9 260.9,260.9 262.8,271.5 264.7,251.5 266.4,249.1 268.3,258.5 269.9,225.5 271.1,237.3 273.0,240.8 274.6,256.2 276.3,283.4 278.2,249.1 279.8,240.8 281.7,263.3 283.6,237.3 285.3,244.4 286.9,272.7 288.8,260.9 290.7,245.5 292.4,260.9 294.0,251.5 295.9,257.4 297.8,258.5 300.2,281.0 301.8,268.0 303.5,258.5 305.4,253.8 307.3,265.6 308.9,260.9 310.6,249.1 312.5,242.0 315.3,285.7 316.7,246.7 318.4,247.9 320.3,243.2 321.9,263.3 323.8,246.7 325.5,245.5 327.3,249.1 329.0,232.5 330.2,230.2 331.8,251.5 333.3,260.9 334.9,255.0 336.6,256.2 338.5,253.8 340.8,250.3 342.5,249.1 344.4,268.0 346.0,263.3 347.9,256.2 350.3,251.5 351.9,234.9 352.1,219.6 353.7,238.5 355.6,285.8 357.3,257.5 359.2,240.9 361.1,235.0 362.7,250.4 364.4,252.7 366.3,259.8 367.5,243.3 369.3,262.2 371.0,274.0 372.9,259.8 374.5,276.4 376.4,259.8 378.1,240.9 379.7,248.0 381.6,240.9 383.3,245.6 385.2,231.5 387.1,227.9 388.7,238.5 390.4,243.3 392.3,264.5 393.9,250.4 395.8,274.0 397.5,248.0 399.4,264.5 401.3,238.5 402.9,248.0 404.6,281.1 406.5,264.5 408.3,226.7 410.0,248.0 411.9,262.2 413.5,250.4 415.2,256.3 417.1,226.7 418.7,231.5 420.6,243.3 422.5,239.7 424.2,238.5 426.5,232.6 428.9,231.5 430.6,237.4 432.5,233.8 434.8,238.5 436.7,240.9 438.8,268.1 440.3,233.8 441.9,227.9 443.8,226.7 445.0,218.5 445.0,361.0" fill="#9FDA9D"/>
<polyline points="111.6,235.5 112.6,219.4 114.9,239.7 117.3,217.0 119.2,230.7 120.6,274.5 122.3,250.8 123.4,252.0 125.1,247.3 127.0,227.2 128.2,227.9 129.3,240.2 130.5,260.3 131.7,255.5 133.4,268.5 136.2,230.7 137.6,259.1 138.8,286.3 140.0,254.4 141.6,269.7 143.3,263.8 144.7,250.8 146.4,256.7 147.5,263.8 148.7,257.9 150.4,255.5 151.8,268.5 154.6,237.8 157.0,250.8 158.9,260.3 161.7,248.5 163.6,259.1 165.3,263.8 167.6,279.2 170.0,250.8 171.9,261.5 173.5,257.9 175.9,268.5 177.1,286.3 178.7,267.4 180.6,283.9 182.5,266.2 184.2,268.5 186.5,242.5 188.9,268.5 191.3,270.9 193.6,278.0 195.5,289.8 197.7,259.1 199.1,256.7 201.9,288.6 204.3,268.5 205.5,270.9 207.8,250.8 210.2,287.5 211.8,281.5 213.3,274.5 214.9,280.4 216.6,252.0 218.0,268.5 220.1,250.8 221.3,253.2 223.2,265.0 225.5,240.2 227.2,262.6 230.2,260.9 232.1,260.9 233.7,266.8 235.6,242.0 236.8,244.4 238.7,263.3 240.4,246.7 242.0,260.9 243.9,276.3 245.8,249.1 247.5,258.5 249.1,253.8 251.0,263.3 252.9,281.0 254.5,249.1 255.7,243.2 257.6,265.6 259.3,247.9 260.9,260.9 262.8,271.5 264.7,251.5 266.4,249.1 268.3,258.5 269.9,225.5 271.1,237.3 273.0,240.8 274.6,256.2 276.3,283.4 278.2,249.1 279.8,240.8 281.7,263.3 283.6,237.3 285.3,244.4 286.9,272.7 288.8,260.9 290.7,245.5 292.4,260.9 294.0,251.5 295.9,257.4 297.8,258.5 300.2,281.0 301.8,268.0 303.5,258.5 305.4,253.8 307.3,265.6 308.9,260.9 310.6,249.1 312.5,242.0 315.3,285.7 316.7,246.7 318.4,247.9 320.3,243.2 321.9,263.3 323.8,246.7 325.5,245.5 327.3,249.1 329.0,232.5 330.2,230.2 331.8,251.5 333.3,260.9 334.9,255.0 336.6,256.2 338.5,253.8 340.8,250.3 342.5,249.1 344.4,268.0 346.0,263.3 347.9,256.2 350.3,251.5 351.9,234.9 352.1,219.6 353.7,238.5 355.6,285.8 357.3,257.5 359.2,240.9 361.1,235.0 362.7,250.4 364.4,252.7 366.3,259.8 367.5,243.3 369.3,262.2 371.0,274.0 372.9,259.8 374.5,276.4 376.4,259.8 378.1,240.9 379.7,248.0 381.6,240.9 383.3,245.6 385.2,231.5 387.1,227.9 388.7,238.5 390.4,243.3 392.3,264.5 393.9,250.4 395.8,274.0 397.5,248.0 399.4,264.5 401.3,238.5 402.9,248.0 404.6,281.1 406.5,264.5 408.3,226.7 410.0,248.0 411.9,262.2 413.5,250.4 415.2,256.3 417.1,226.7 418.7,231.5 420.6,243.3 422.5,239.7 424.2,238.5 426.5,232.6 428.9,231.5 430.6,237.4 432.5,233.8 434.8,238.5 436.7,240.9 438.8,268.1 440.3,233.8 441.9,227.9 443.8,226.7 445.0,218.5" fill="none" stroke="#E8333A" stroke-width="1.6" stroke-linejoin="round"/>
<polygon points="70.2,414.8 70.2,232.6 71.8,239.2 73.7,245.1 75.4,249.8 76.5,260.0 78.0,262.8 79.4,268.0 81.3,269.9 83.2,275.1 85.5,281.3 86.7,295.9 87.9,324.3 88.8,286.5 89.8,265.7 91.0,264.0 91.9,279.4 93.1,303.0 94.7,324.3 95.7,295.9 96.4,290.0 97.3,295.4 98.5,288.3 99.5,303.0 100.7,324.7 101.6,303.0 102.8,282.4 103.7,293.5 104.7,306.5 106.3,313.6 107.5,310.6 108.9,306.1 110.6,309.6 112.2,315.3 113.9,336.6 116.3,302.5 118.4,354.4 120.7,386.3 121.9,361.5 123.3,333.1 125.0,324.3 126.9,305.4 128.5,295.9 130.0,279.4 130.9,252.9 132.1,295.9 133.3,316.0 135.2,295.9 137.3,345.4 139.2,303.0 141.1,304.2 142.7,314.8 143.9,326.0 145.6,307.7 147.5,303.0 149.3,317.2 150.3,337.8 151.2,307.7 152.2,319.5 153.8,346.1 155.7,314.8 157.4,303.0 158.8,295.9 160.2,286.9 161.6,337.8 163.3,319.5 165.2,295.9 166.8,281.3 168.7,295.9 170.1,305.4 171.3,335.5 173.0,316.0 174.6,312.5 176.3,314.8 178.2,308.9 180.1,310.1 183.6,320.6 185.6,311.7 187.2,316.8 189.7,318.1 192.3,314.2 194.1,316.8 196.6,304.0 198.4,301.4 200.5,316.8 202.5,306.5 204.3,301.4 206.4,293.7 207.6,304.0 208.9,301.4 210.7,309.1 212.5,297.6 214.5,329.6 215.8,324.4 217.6,304.0 219.2,306.5 220.9,329.6 223.0,309.1 224.8,330.8 227.3,301.4 229.1,306.5 231.2,305.3 233.2,316.8 235.0,342.4 236.8,353.9 238.9,359.0 240.9,314.2 242.7,312.9 244.5,321.9 247.0,323.2 249.1,328.3 251.7,337.2 253.7,309.1 256.0,305.3 257.5,307.8 259.8,298.9 261.4,296.3 263.2,302.7 265.0,301.4 267.0,329.6 269.1,319.3 270.8,314.2 272.6,324.4 275.2,316.8 277.2,310.4 279.0,328.3 280.6,309.1 282.4,300.1 284.2,307.8 285.4,306.5 287.5,321.9 289.5,370.0 291.8,316.8 293.9,314.2 296.4,315.5 298.2,301.4 299.5,293.7 301.2,305.6 302.4,297.4 303.5,303.3 305.2,300.9 306.6,310.4 308.3,318.6 309.9,329.3 311.8,378.9 313.7,329.3 314.9,300.9 316.5,329.3 317.7,343.5 319.4,324.5 321.3,308.0 322.9,316.3 324.8,308.0 326.5,303.3 328.4,298.5 330.0,305.6 331.4,247.7 333.1,286.7 334.7,324.5 335.9,365.7 337.8,310.4 339.0,324.5 341.4,397.6 343.3,338.7 344.2,319.8 345.6,317.5 347.3,325.7 348.9,312.7 350.3,305.6 352.0,310.4 353.7,300.9 355.1,292.6 356.7,296.2 358.4,292.6 360.3,287.9 361.9,284.4 363.3,274.9 365.0,286.7 366.9,300.9 368.1,315.1 369.3,289.1 370.2,267.8 371.6,282.0 372.8,289.1 374.5,283.2 376.1,298.5 377.5,289.1 379.2,293.8 380.8,304.5 382.7,291.5 384.4,279.6 385.8,293.8 387.5,303.3 389.3,305.6 391.0,298.5 392.7,290.3 394.5,296.2 395.7,277.3 397.4,278.5 398.8,286.7 400.5,292.6 402.1,284.4 403.5,280.8 405.2,291.5 406.8,280.8 408.3,284.4 409.9,276.1 411.1,299.7 412.3,287.9 413.9,271.4 415.8,259.5 417.5,277.3 418.9,300.9 420.5,270.2 422.4,309.2 424.1,271.4 424.1,414.8" fill="#FCC89B"/>
<polyline points="70.2,232.6 71.8,239.2 73.7,245.1 75.4,249.8 76.5,260.0 78.0,262.8 79.4,268.0 81.3,269.9 83.2,275.1 85.5,281.3 86.7,295.9 87.9,324.3 88.8,286.5 89.8,265.7 91.0,264.0 91.9,279.4 93.1,303.0 94.7,324.3 95.7,295.9 96.4,290.0 97.3,295.4 98.5,288.3 99.5,303.0 100.7,324.7 101.6,303.0 102.8,282.4 103.7,293.5 104.7,306.5 106.3,313.6 107.5,310.6 108.9,306.1 110.6,309.6 112.2,315.3 113.9,336.6 116.3,302.5 118.4,354.4 120.7,386.3 121.9,361.5 123.3,333.1 125.0,324.3 126.9,305.4 128.5,295.9 130.0,279.4 130.9,252.9 132.1,295.9 133.3,316.0 135.2,295.9 137.3,345.4 139.2,303.0 141.1,304.2 142.7,314.8 143.9,326.0 145.6,307.7 147.5,303.0 149.3,317.2 150.3,337.8 151.2,307.7 152.2,319.5 153.8,346.1 155.7,314.8 157.4,303.0 158.8,295.9 160.2,286.9 161.6,337.8 163.3,319.5 165.2,295.9 166.8,281.3 168.7,295.9 170.1,305.4 171.3,335.5 173.0,316.0 174.6,312.5 176.3,314.8 178.2,308.9 180.1,310.1 183.6,320.6 185.6,311.7 187.2,316.8 189.7,318.1 192.3,314.2 194.1,316.8 196.6,304.0 198.4,301.4 200.5,316.8 202.5,306.5 204.3,301.4 206.4,293.7 207.6,304.0 208.9,301.4 210.7,309.1 212.5,297.6 214.5,329.6 215.8,324.4 217.6,304.0 219.2,306.5 220.9,329.6 223.0,309.1 224.8,330.8 227.3,301.4 229.1,306.5 231.2,305.3 233.2,316.8 235.0,342.4 236.8,353.9 238.9,359.0 240.9,314.2 242.7,312.9 244.5,321.9 247.0,323.2 249.1,328.3 251.7,337.2 253.7,309.1 256.0,305.3 257.5,307.8 259.8,298.9 261.4,296.3 263.2,302.7 265.0,301.4 267.0,329.6 269.1,319.3 270.8,314.2 272.6,324.4 275.2,316.8 277.2,310.4 279.0,328.3 280.6,309.1 282.4,300.1 284.2,307.8 285.4,306.5 287.5,321.9 289.5,370.0 291.8,316.8 293.9,314.2 296.4,315.5 298.2,301.4 299.5,293.7 301.2,305.6 302.4,297.4 303.5,303.3 305.2,300.9 306.6,310.4 308.3,318.6 309.9,329.3 311.8,378.9 313.7,329.3 314.9,300.9 316.5,329.3 317.7,343.5 319.4,324.5 321.3,308.0 322.9,316.3 324.8,308.0 326.5,303.3 328.4,298.5 330.0,305.6 331.4,247.7 333.1,286.7 334.7,324.5 335.9,365.7 337.8,310.4 339.0,324.5 341.4,397.6 343.3,338.7 344.2,319.8 345.6,317.5 347.3,325.7 348.9,312.7 350.3,305.6 352.0,310.4 353.7,300.9 355.1,292.6 356.7,296.2 358.4,292.6 360.3,287.9 361.9,284.4 363.3,274.9 365.0,286.7 366.9,300.9 368.1,315.1 369.3,289.1 370.2,267.8 371.6,282.0 372.8,289.1 374.5,283.2 376.1,298.5 377.5,289.1 379.2,293.8 380.8,304.5 382.7,291.5 384.4,279.6 385.8,293.8 387.5,303.3 389.3,305.6 391.0,298.5 392.7,290.3 394.5,296.2 395.7,277.3 397.4,278.5 398.8,286.7 400.5,292.6 402.1,284.4 403.5,280.8 405.2,291.5 406.8,280.8 408.3,284.4 409.9,276.1 411.1,299.7 412.3,287.9 413.9,271.4 415.8,259.5 417.5,277.3 418.9,300.9 420.5,270.2 422.4,309.2 424.1,271.4" fill="none" stroke="#4F4F4F" stroke-width="1.6" stroke-linejoin="round"/>
<g stroke="#222" stroke-width="0.9" fill="none">
<path d="M47.3,240.1 L47.3,444.3"/>
<path d="M47.3,444.3 L413.3,444.3"/>
<path d="M413.3,444.3 L526.4,150.2"/>
</g>
<g stroke="#000" stroke-width="1.4" fill="none">
<path d="M47.3,444.3 h7.0"/>
<path d="M47.3,428.8 h1.8"/>
<path d="M47.3,413.2 h7.0"/>
<path d="M47.3,397.7 h1.8"/>
<path d="M47.3,382.2 h7.0"/>
<path d="M47.3,366.7 h1.8"/>
<path d="M47.3,351.1 h7.0"/>
<path d="M47.3,335.6 h1.8"/>
<path d="M47.3,320.1 h7.0"/>
<path d="M47.3,304.6 h1.8"/>
<path d="M47.3,289.1 h7.0"/>
<path d="M47.3,273.5 h1.8"/>
<path d="M47.3,258.0 h7.0"/>
<path d="M47.3,242.5 h1.8"/>
<path d="M52.4,444.3 v-4.2"/>
<path d="M94.7,444.3 v-1.2"/>
<path d="M137.1,444.3 v-4.2"/>
<path d="M179.5,444.3 v-1.2"/>
<path d="M221.8,444.3 v-4.2"/>
<path d="M264.2,444.3 v-1.2"/>
<path d="M306.6,444.3 v-4.2"/>
<path d="M348.9,444.3 v-1.2"/>
<path d="M391.3,444.3 v-4.2"/>
<path d="M413.3,444.3 h-3.6"/>
<path d="M435.3,387.1 h-3.4"/>
<path d="M454.8,336.3 h-3.2"/>
<path d="M472.2,291.1 h-3.0"/>
<path d="M487.8,250.5 h-2.9"/>
<path d="M501.9,213.8 h-2.7"/>
<path d="M514.7,180.5 h-2.6"/>
</g>
<g font-family="'Liberation Serif', serif" fill="#000">
<text transform="translate(40,449.6) scale(0.92,1)" font-size="16.2" text-anchor="end">0</text>
<text transform="translate(40,418.6) scale(0.92,1)" font-size="16.2" text-anchor="end">10</text>
<text transform="translate(40,387.5) scale(0.92,1)" font-size="16.2" text-anchor="end">20</text>
<text transform="translate(40,356.4) scale(0.92,1)" font-size="16.2" text-anchor="end">30</text>
<text transform="translate(40,325.4) scale(0.92,1)" font-size="16.2" text-anchor="end">40</text>
<text transform="translate(40,294.4) scale(0.92,1)" font-size="16.2" text-anchor="end">50</text>
<text transform="translate(40,263.3) scale(0.92,1)" font-size="16.2" text-anchor="end">60</text>
<text transform="translate(94.7,466.3) scale(0.92,1)" font-size="16.2" text-anchor="middle">100</text>
<text transform="translate(179.5,466.3) scale(0.92,1)" font-size="16.2" text-anchor="middle">150</text>
<text transform="translate(264.2,466.3) scale(0.92,1)" font-size="16.2" text-anchor="middle">200</text>
<text transform="translate(348.9,466.3) scale(0.92,1)" font-size="16.2" text-anchor="middle">250</text>
<text transform="translate(431.4,420.8) scale(0.92,1)" font-size="18.2">Mon</text>
<text transform="translate(451.7,366.6) scale(0.92,1)" font-size="17.1">Tue</text>
<text transform="translate(469.8,318.4) scale(0.92,1)" font-size="16.2">Wed</text>
<text transform="translate(485.9,275.3) scale(0.92,1)" font-size="15.3">Thu</text>
<text transform="translate(500.5,236.5) scale(0.92,1)" font-size="14.6">Fri</text>
<text transform="translate(513.6,201.3) scale(0.92,1)" font-size="13.9">Sat</text>
<text transform="translate(525.6,169.4) scale(0.92,1)" font-size="13.3">Sun</text>
<text transform="translate(181.5,498.4) scale(0.9,1)" font-size="19.3" font-weight="bold">Slot(1=5min)</text>
<text transform="translate(526.4,272.4) rotate(-61) scale(1.05,1.2)" font-size="10" font-weight="bold" text-anchor="middle">Week</text>
</g>
<text transform="translate(18.9,341.6) scale(0.94,1) rotate(-90)" font-family="'Liberation Sans', sans-serif" font-size="19.5" font-weight="bold" text-anchor="middle" fill="#000">Speed(km/h)</text>
</svg>
</body></html>
